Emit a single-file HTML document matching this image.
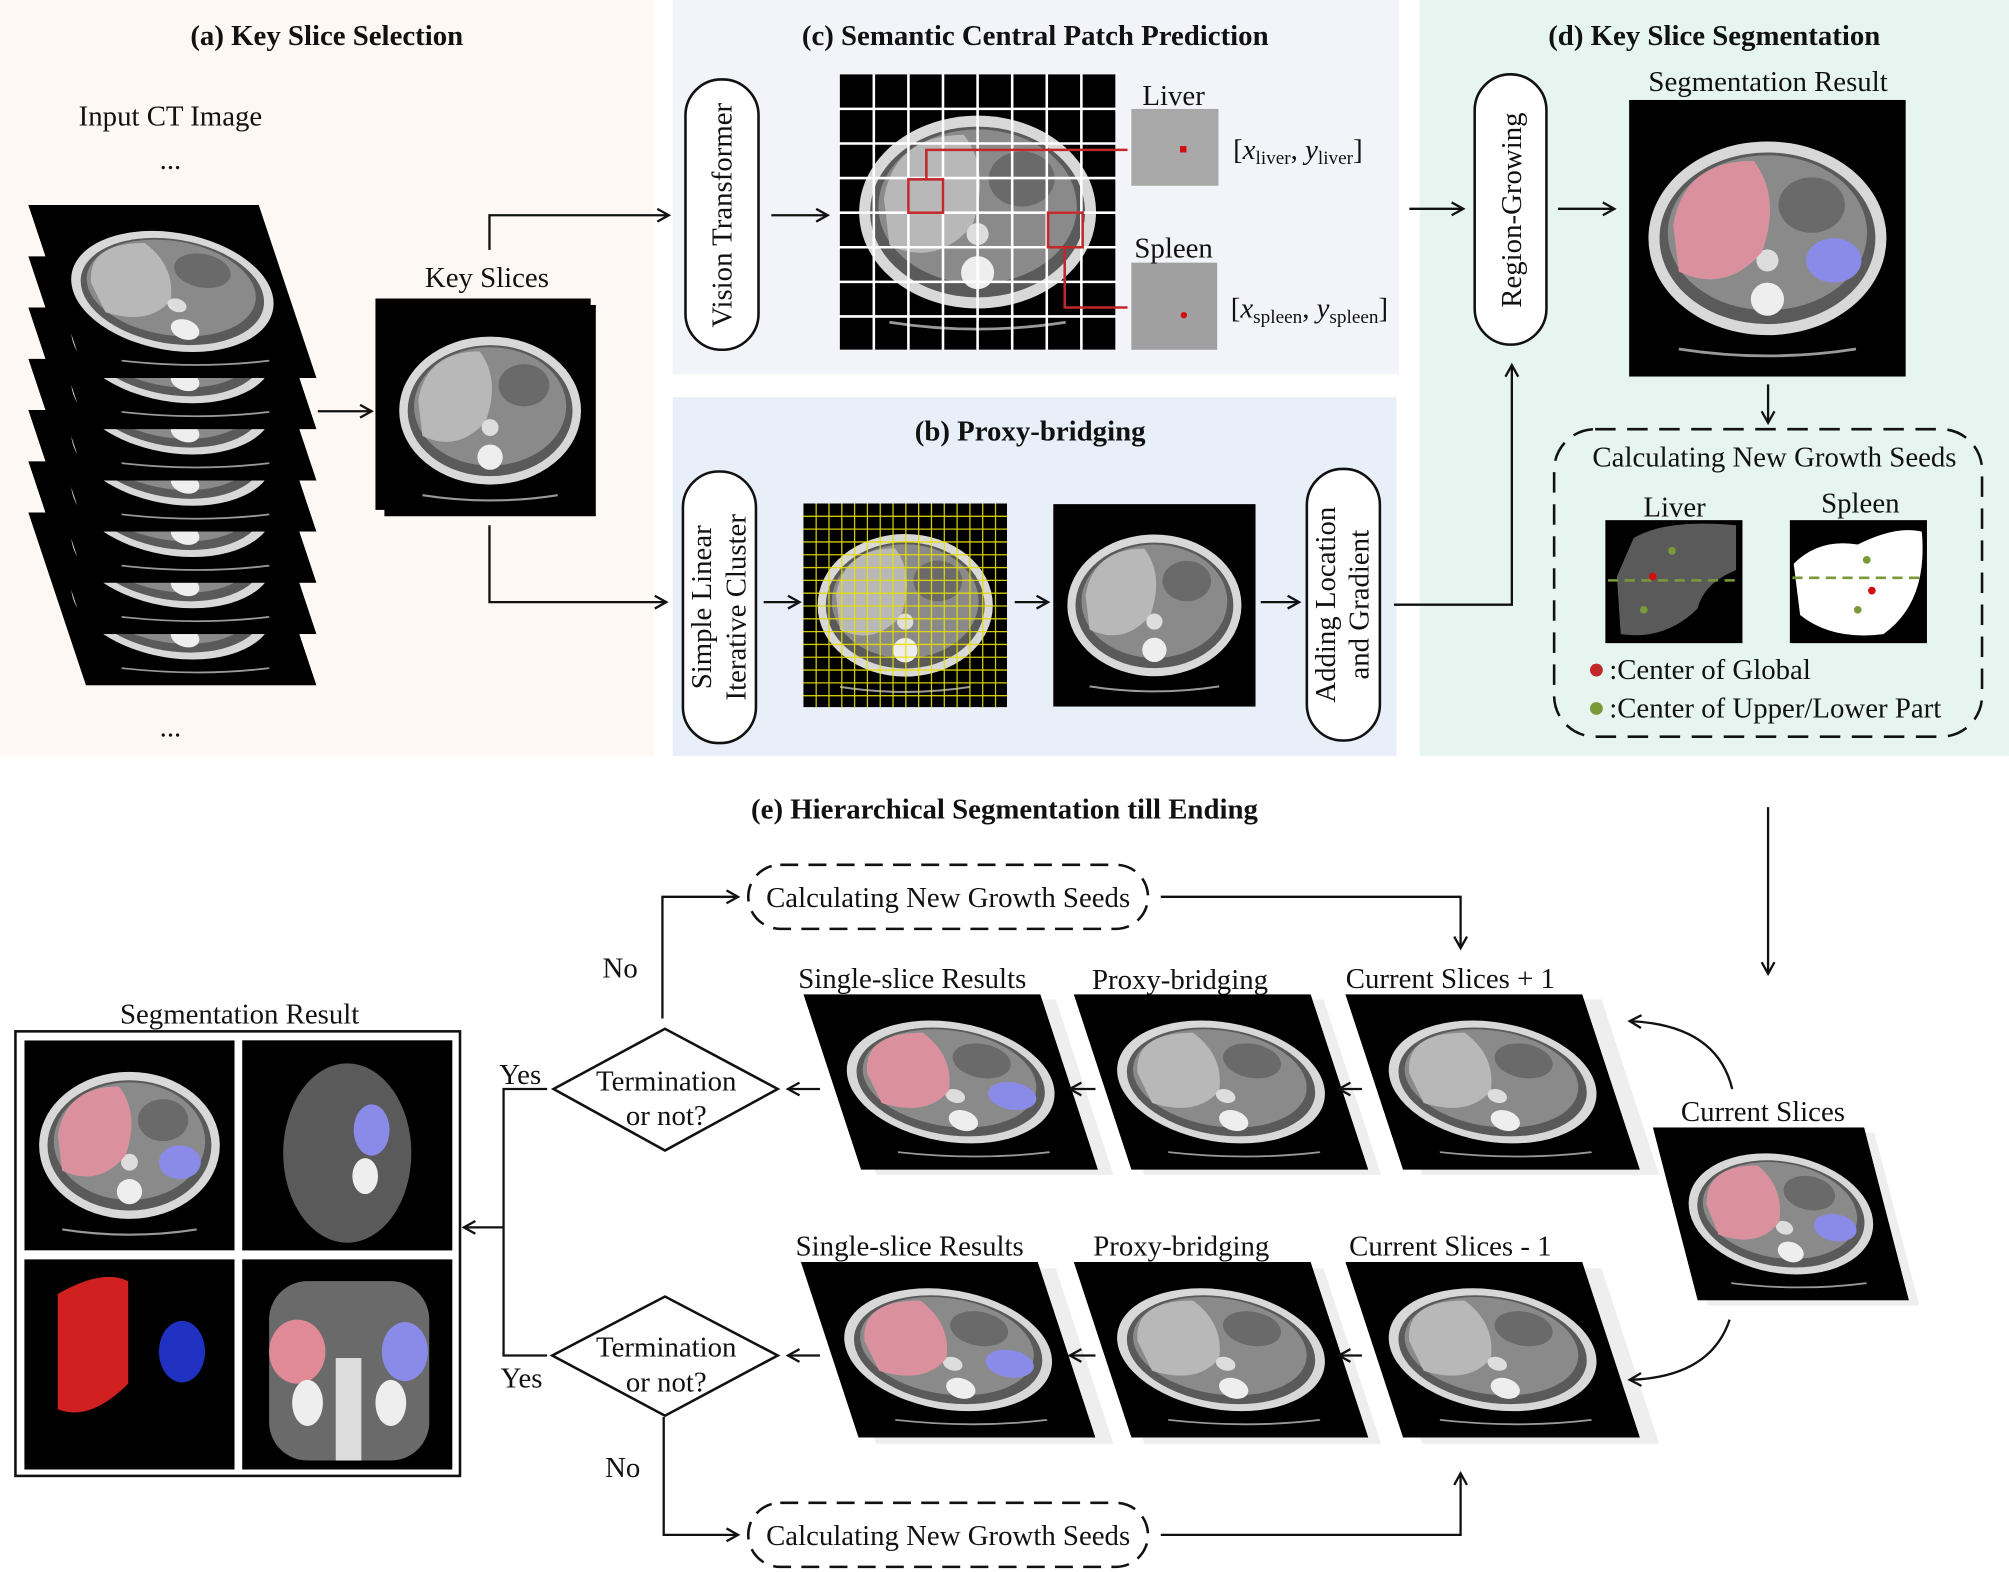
<!DOCTYPE html>
<html><head><meta charset="utf-8"><style>
html,body{margin:0;padding:0;background:#fff}
svg{display:block}
text{font-family:"Liberation Serif",serif;fill:#111}
.t{font-size:22.5px;font-weight:bold}
.l{font-size:22.5px}
</style></head><body>
<svg width="2009" height="1572" viewBox="0 0 1568 1227" xmlns="http://www.w3.org/2000/svg">
<defs>
<marker id="ah" markerWidth="12" markerHeight="12" refX="10" refY="6" orient="auto" markerUnits="userSpaceOnUse">
<path d="M1,1 L10,6 L1,11" fill="none" stroke="#111" stroke-width="1.8"/></marker>
<symbol id="ct" viewBox="0 0 100 100">
<rect width="100" height="100" fill="#000"/>
<ellipse cx="50" cy="50" rx="43" ry="35" fill="#d8d8d8"/>
<ellipse cx="50" cy="50" rx="39" ry="31" fill="#5a5a5a"/>
<ellipse cx="50" cy="48" rx="36" ry="28" fill="#8a8a8a"/>
<path d="M16,45 Q20,22 45,22 Q55,35 48,55 Q35,70 18,62 Z" fill="#b8b8b8"/>
<ellipse cx="66" cy="38" rx="12" ry="10" fill="#6a6a6a"/>
<circle cx="50" cy="72" r="6" fill="#eee"/>
<circle cx="50" cy="58" r="4" fill="#ddd"/>
<path d="M18,90 Q50,95 82,90" stroke="#999" fill="none" stroke-width="1"/>
</symbol>
<symbol id="cts" viewBox="0 0 100 100">
<use href="#ct" width="100" height="100"/>
<path d="M16,45 Q20,22 45,22 Q55,35 48,55 Q35,70 18,62 Z" fill="#e08a98" opacity="0.85"/>
<ellipse cx="74" cy="58" rx="10" ry="8" fill="#8a8ae8"/>
</symbol>
</defs>

<rect x="0" y="0" width="510" height="590" fill="#fdf8f3"/>
<rect x="525" y="0" width="567" height="292" fill="#f3f3fa"/>
<rect x="525" y="310" width="565" height="280" fill="#e9eff9"/>
<rect x="1108" y="0" width="460" height="590" fill="#e6f5ef"/>

<!-- (a) -->
<text class="t" x="255" y="35" text-anchor="middle">(a) Key Slice Selection</text>
<text class="l" x="133" y="98" text-anchor="middle">Input CT Image</text>
<text class="l" x="133" y="132" text-anchor="middle">...</text>
<text class="l" x="133" y="575" text-anchor="middle">...</text>
<g>
<g transform="matrix(1.8,0,0.45,1.35,22,400)"><use href="#ct" width="100" height="100"/></g>
<g transform="matrix(1.8,0,0.45,1.35,22,360)"><use href="#ct" width="100" height="100"/></g>
<g transform="matrix(1.8,0,0.45,1.35,22,320)"><use href="#ct" width="100" height="100"/></g>
<g transform="matrix(1.8,0,0.45,1.35,22,280)"><use href="#ct" width="100" height="100"/></g>
<g transform="matrix(1.8,0,0.45,1.35,22,240)"><use href="#ct" width="100" height="100"/></g>
<g transform="matrix(1.8,0,0.45,1.35,22,200)"><use href="#ct" width="100" height="100"/></g>
<g transform="matrix(1.8,0,0.45,1.35,22,160)"><use href="#ct" width="100" height="100"/></g>
</g>
<path d="M248,321 L290,321" stroke="#111" stroke-width="1.8" marker-end="url(#ah)"/>
<text class="l" x="380" y="224" text-anchor="middle">Key Slices</text>
<rect x="293" y="233" width="168" height="165" fill="#000"/>
<use href="#ct" x="299" y="238" width="167" height="165"/>
<path d="M382,195 L382,168 L522,168" fill="none" stroke="#111" stroke-width="1.8" marker-end="url(#ah)"/>
<path d="M382,410 L382,470 L520,470" fill="none" stroke="#111" stroke-width="1.8" marker-end="url(#ah)"/>

<!-- (c) -->
<text class="t" x="808" y="35" text-anchor="middle">(c) Semantic Central Patch Prediction</text>
<rect x="535" y="62" width="57" height="211" rx="28" fill="#fff" stroke="#111" stroke-width="2"/>
<text class="l" transform="translate(571,168) rotate(-90)" text-anchor="middle">Vision Transformer</text>
<path d="M602,168 L646,168" stroke="#111" stroke-width="1.8" marker-end="url(#ah)"/>
<use href="#ct" x="655" y="58" width="216" height="215"/>
<g stroke="#fff" stroke-width="2">
<path d="M682,58V273M709,58V273M736,58V273M763,58V273M790,58V273M817,58V273M844,58V273"/>
<path d="M655,85H871M655,112H871M655,139H871M655,166H871M655,193H871M655,220H871M655,247H871"/>
</g>
<rect x="709" y="140" width="27" height="26" fill="none" stroke="#c0282a" stroke-width="2"/>
<rect x="818" y="166" width="27" height="27" fill="none" stroke="#c0282a" stroke-width="2"/>
<path d="M723,140 L723,117 L880,117" fill="none" stroke="#c0282a" stroke-width="2"/>
<path d="M831,193 L831,240 L880,240" fill="none" stroke="#c0282a" stroke-width="2"/>
<rect x="883" y="85" width="68" height="60" fill="#a8a8a8"/>
<rect x="921" y="114" width="5" height="5" fill="#d01010"/>
<rect x="883" y="205" width="67" height="68" fill="#a0a0a0"/>
<circle cx="924" cy="246" r="2.5" fill="#d01010"/>
<text class="l" x="916" y="82" text-anchor="middle">Liver</text>
<text class="l" x="916" y="201" text-anchor="middle">Spleen</text>
<text class="l" x="1013" y="124" text-anchor="middle">[<tspan font-style="italic">x</tspan><tspan font-size="15" dy="4">liver</tspan><tspan dy="-4">, </tspan><tspan font-style="italic">y</tspan><tspan font-size="15" dy="4">liver</tspan><tspan dy="-4">]</tspan></text>
<text class="l" x="1022" y="248" text-anchor="middle">[<tspan font-style="italic">x</tspan><tspan font-size="15" dy="4">spleen</tspan><tspan dy="-4">, </tspan><tspan font-style="italic">y</tspan><tspan font-size="15" dy="4">spleen</tspan><tspan dy="-4">]</tspan></text>

<!-- (b) -->
<text class="t" x="804" y="344" text-anchor="middle">(b) Proxy-bridging</text>
<rect x="533" y="368" width="57" height="212" rx="28" fill="#fff" stroke="#111" stroke-width="2"/>
<text class="l" transform="translate(555,474) rotate(-90)" text-anchor="middle">Simple Linear</text>
<text class="l" transform="translate(582,474) rotate(-90)" text-anchor="middle">Iterative Cluster</text>
<path d="M596,470 L624,470" stroke="#111" stroke-width="1.8" marker-end="url(#ah)"/>
<use href="#ct" x="627" y="393" width="159" height="159"/>
<g stroke="#e6e000" stroke-width="1" opacity="0.9">
<path d="M637,393V552M647,393V552M657,393V552M667,393V552M677,393V552M687,393V552M697,393V552M707,393V552M717,393V552M727,393V552M737,393V552M747,393V552M757,393V552M767,393V552M777,393V552"/>
<path d="M627,403H786M627,413H786M627,423H786M627,433H786M627,443H786M627,453H786M627,463H786M627,473H786M627,483H786M627,493H786M627,503H786M627,513H786M627,523H786M627,533H786M627,543H786"/>
</g>
<path d="M792,470 L818,470" stroke="#111" stroke-width="1.8" marker-end="url(#ah)"/>
<use href="#ct" x="822" y="393" width="158" height="159"/>
<path d="M984,470 L1014,470" stroke="#111" stroke-width="1.8" marker-end="url(#ah)"/>
<rect x="1020" y="366" width="57" height="212" rx="28" fill="#fff" stroke="#111" stroke-width="2"/>
<text class="l" transform="translate(1042,472) rotate(-90)" text-anchor="middle">Adding Location</text>
<text class="l" transform="translate(1068,472) rotate(-90)" text-anchor="middle">and Gradient</text>
<path d="M1088,472 L1180,472 L1180,285" fill="none" stroke="#111" stroke-width="1.8" marker-end="url(#ah)"/>

<!-- (d) -->
<text class="t" x="1338" y="35" text-anchor="middle">(d) Key Slice Segmentation</text>
<path d="M1100,163 L1142,163" stroke="#111" stroke-width="1.8" marker-end="url(#ah)"/>
<rect x="1151" y="58" width="56" height="211" rx="28" fill="#fff" stroke="#111" stroke-width="2"/>
<text class="l" transform="translate(1187,164) rotate(-90)" text-anchor="middle">Region-Growing</text>
<path d="M1216,163 L1260,163" stroke="#111" stroke-width="1.8" marker-end="url(#ah)"/>
<text class="l" x="1380" y="71" text-anchor="middle">Segmentation Result</text>
<use href="#cts" x="1271" y="78" width="217" height="216"/>
<path d="M1380,300 L1380,330" stroke="#111" stroke-width="1.8" marker-end="url(#ah)"/>
<rect x="1213" y="335" width="334" height="240" rx="32" fill="none" stroke="#111" stroke-width="2" stroke-dasharray="16,9"/>
<text class="l" x="1385" y="364" text-anchor="middle">Calculating New Growth Seeds</text>
<text class="l" x="1307" y="403" text-anchor="middle">Liver</text>
<text class="l" x="1452" y="400" text-anchor="middle">Spleen</text>
<rect x="1253" y="406" width="107" height="96" fill="#000"/>
<path d="M1275,420 Q1300,405 1355,410 L1355,445 Q1330,455 1325,475 Q1300,500 1265,495 L1262,450 Z" fill="#5a5a5a"/>
<rect x="1397" y="406" width="107" height="96" fill="#000"/>
<path d="M1400,440 Q1420,420 1450,425 Q1480,410 1500,415 Q1505,470 1470,495 Q1430,500 1405,480 Z" fill="#fff"/>
<path d="M1255,453 H1358 M1399,451 H1502" stroke="#7a9a3a" stroke-width="2" stroke-dasharray="8,5"/>
<circle cx="1290" cy="450" r="3" fill="#d01010"/><circle cx="1305" cy="430" r="3" fill="#7a9a3a"/><circle cx="1283" cy="476" r="3" fill="#7a9a3a"/>
<circle cx="1461" cy="461" r="3" fill="#d01010"/><circle cx="1457" cy="437" r="3" fill="#7a9a3a"/><circle cx="1450" cy="476" r="3" fill="#7a9a3a"/>
<circle cx="1246" cy="523" r="5" fill="#c0282a"/>
<text class="l" x="1256" y="530">:Center of Global</text>
<circle cx="1246" cy="553" r="5" fill="#7a9a3a"/>
<text class="l" x="1256" y="560">:Center of Upper/Lower Part</text>
<path d="M1380,630 L1380,760" stroke="#111" stroke-width="1.8" marker-end="url(#ah)"/>

<!-- (e) -->
<text class="t" x="784" y="639" text-anchor="middle">(e) Hierarchical Segmentation till Ending</text>
<rect x="584" y="675" width="312" height="50" rx="25" fill="#fff" stroke="#111" stroke-width="2" stroke-dasharray="14,8"/>
<text class="l" x="740" y="708" text-anchor="middle">Calculating New Growth Seeds</text>
<path d="M906,700 L1140,700 L1140,740" fill="none" stroke="#111" stroke-width="1.8" marker-end="url(#ah)"/>
<path d="M517,795 L517,700 L576,700" fill="none" stroke="#111" stroke-width="1.8" marker-end="url(#ah)"/>
<text class="l" x="484" y="763" text-anchor="middle">No</text>
<text class="l" x="712" y="771" text-anchor="middle">Single-slice Results</text>
<text class="l" x="921" y="772" text-anchor="middle">Proxy-bridging</text>
<text class="l" x="1132" y="771" text-anchor="middle">Current Slices + 1</text>

<g transform="matrix(1.85,0,0.45,1.37,639,780)"><rect width="100" height="100" fill="#eee"/></g>
<g transform="matrix(1.85,0,0.45,1.37,627,776)"><use href="#cts" width="100" height="100"/></g>
<g transform="matrix(1.85,0,0.45,1.37,848,780)"><rect width="100" height="100" fill="#eee"/></g>
<g transform="matrix(1.85,0,0.45,1.37,838,776)"><use href="#ct" width="100" height="100"/></g>
<g transform="matrix(1.85,0,0.45,1.37,1065,780)"><rect width="100" height="100" fill="#eee"/></g>
<g transform="matrix(1.85,0,0.45,1.37,1050,776)"><use href="#ct" width="100" height="100"/></g>
<path d="M1063,850 L1045,850" stroke="#111" stroke-width="1.8" marker-end="url(#ah)"/>
<path d="M855,850 L835,850" stroke="#111" stroke-width="1.8" marker-end="url(#ah)"/>
<path d="M640,850 L615,850" stroke="#111" stroke-width="1.8" marker-end="url(#ah)"/>

<polygon points="432,850 519,803 607,850 519,898" fill="#fff" stroke="#111" stroke-width="2"/>
<text class="l" x="520" y="851" text-anchor="middle">Termination</text>
<text class="l" x="520" y="878" text-anchor="middle">or not?</text>
<text class="l" x="406" y="846" text-anchor="middle">Yes</text>

<text class="l" x="710" y="980" text-anchor="middle">Single-slice Results</text>
<text class="l" x="922" y="980" text-anchor="middle">Proxy-bridging</text>
<text class="l" x="1132" y="980" text-anchor="middle">Current Slices - 1</text>
<g transform="matrix(1.85,0,0.45,1.37,639,990)"><rect width="100" height="100" fill="#eee"/></g>
<g transform="matrix(1.85,0,0.45,1.37,625,985)"><use href="#cts" width="100" height="100"/></g>
<g transform="matrix(1.85,0,0.45,1.37,848,990)"><rect width="100" height="100" fill="#eee"/></g>
<g transform="matrix(1.85,0,0.45,1.37,838,985)"><use href="#ct" width="100" height="100"/></g>
<g transform="matrix(1.85,0,0.45,1.37,1065,990)"><rect width="100" height="100" fill="#eee"/></g>
<g transform="matrix(1.85,0,0.45,1.37,1050,985)"><use href="#ct" width="100" height="100"/></g>
<path d="M1063,1058 L1045,1058" stroke="#111" stroke-width="1.8" marker-end="url(#ah)"/>
<path d="M855,1058 L835,1058" stroke="#111" stroke-width="1.8" marker-end="url(#ah)"/>
<path d="M640,1058 L615,1058" stroke="#111" stroke-width="1.8" marker-end="url(#ah)"/>

<polygon points="431,1058 519,1012 607,1058 519,1105" fill="#fff" stroke="#111" stroke-width="2"/>
<text class="l" x="520" y="1059" text-anchor="middle">Termination</text>
<text class="l" x="520" y="1086" text-anchor="middle">or not?</text>
<text class="l" x="407" y="1083" text-anchor="middle">Yes</text>
<text class="l" x="486" y="1153" text-anchor="middle">No</text>
<path d="M518,1106 L518,1198 L576,1198" fill="none" stroke="#111" stroke-width="1.8" marker-end="url(#ah)"/>
<rect x="584" y="1173" width="312" height="50" rx="25" fill="#fff" stroke="#111" stroke-width="2" stroke-dasharray="14,8"/>
<text class="l" x="740" y="1206" text-anchor="middle">Calculating New Growth Seeds</text>
<path d="M906,1198 L1140,1198 L1140,1150" fill="none" stroke="#111" stroke-width="1.8" marker-end="url(#ah)"/>

<path d="M427,850 L393,850 L393,1058 L427,1058" fill="none" stroke="#111" stroke-width="1.8"/>
<path d="M393,958 L362,958" stroke="#111" stroke-width="1.8" marker-end="url(#ah)"/>

<text class="l" x="187" y="799" text-anchor="middle">Segmentation Result</text>
<rect x="12" y="805" width="347" height="347" fill="#fff" stroke="#111" stroke-width="2"/>
<use href="#cts" x="19" y="812" width="164" height="164"/>
<rect x="189" y="812" width="164" height="164" fill="#000"/>
<ellipse cx="271" cy="900" rx="50" ry="70" fill="#5a5a5a"/>
<ellipse cx="290" cy="882" rx="14" ry="20" fill="#8a8ae8"/>
<ellipse cx="285" cy="918" rx="10" ry="14" fill="#eee"/>
<rect x="19" y="983" width="164" height="164" fill="#000"/>
<path d="M45,1010 Q80,990 100,1000 L100,1080 Q70,1110 45,1100 Z" fill="#d02020"/>
<ellipse cx="142" cy="1055" rx="18" ry="24" fill="#2030c0"/>
<rect x="189" y="983" width="164" height="164" fill="#000"/>
<rect x="210" y="1000" width="125" height="140" rx="30" fill="#6a6a6a"/>
<ellipse cx="232" cy="1055" rx="22" ry="25" fill="#e08a98"/>
<ellipse cx="316" cy="1055" rx="18" ry="23" fill="#8a8ae8"/>
<ellipse cx="240" cy="1095" rx="12" ry="18" fill="#eee"/><ellipse cx="305" cy="1095" rx="12" ry="18" fill="#eee"/>
<rect x="262" y="1060" width="20" height="80" fill="#ddd"/>

<text class="l" x="1376" y="875" text-anchor="middle">Current Slices</text>
<g transform="matrix(1.65,0,0.35,1.35,1298,884)"><rect width="100" height="100" fill="#eee"/></g>
<g transform="matrix(1.65,0,0.35,1.35,1290,880)"><use href="#cts" width="100" height="100"/></g>
<path d="M1352,850 Q1340,800 1272,797" fill="none" stroke="#111" stroke-width="1.8" marker-end="url(#ah)"/>
<path d="M1350,1030 Q1335,1075 1272,1077" fill="none" stroke="#111" stroke-width="1.8" marker-end="url(#ah)"/>
</svg>
</body></html>
